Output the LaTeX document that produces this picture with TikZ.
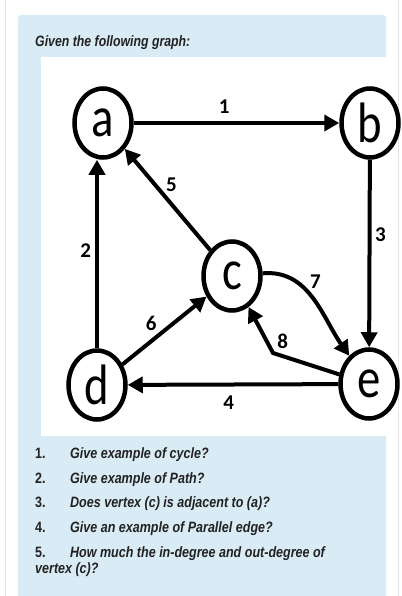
\documentclass[tikz,border=0pt]{standalone}
\usepackage{fontspec}
\usepackage{graphicx}
\setmainfont{Liberation Sans}
\newfontfamily\grfont{Carlito}
\usetikzlibrary{arrows.meta,positioning,shapes.geometric}
\definecolor{panelblue}{HTML}{D9EBF5}
\definecolor{cardgray}{HTML}{E4E4E4}
\definecolor{inktext}{HTML}{222222}
\newcommand{\narrow}[1]{\scalebox{0.82}[1]{#1}}
\newcommand{\qnarrow}[1]{\scalebox{0.835}[1]{#1}}

\begin{document}
\begin{tikzpicture}[
    x=1pt, y=-1pt,
    vtx/.style={ellipse, draw, line width=4.5pt, minimum width=57pt, minimum height=69pt, inner sep=0pt, font=\grfont\fontsize{57}{57}\selectfont},
    link/.style={line width=4pt, -{Triangle[length=15pt,width=16pt]}},
    wt/.style={font=\grfont\bfseries\fontsize{21}{21}\selectfont, inner sep=1pt},
    head/.style={anchor=base west, inner sep=0pt, text=inktext, font=\bfseries\itshape\fontsize{15}{15}\selectfont},
    ques/.style={anchor=base west, inner sep=0pt, text=inktext, font=\bfseries\itshape\fontsize{15}{15}\selectfont},
    qnum/.style={anchor=base west, inner sep=0pt, text=inktext, font=\bfseries\fontsize{15}{15}\selectfont},
  ]
  \useasboundingbox (0,0) rectangle (401,596);
  \fill[white] (0,0) rectangle (401,596);
  % card and panel
  \draw[cardgray, line width=1pt] (5.5,0) -- (5.5,596);
  \draw[cardgray, line width=1pt] (398,0) -- (398,596);
  \fill[panelblue, rounded corners=3pt] (18,15) rectangle (386,604);
  \fill[white] (41,57) rectangle (387,436);

  \node[head] (title) at (35,47) {\narrow{Given the following graph:}};

  % graph
  \node[vtx] (a) at (103,123) {\narrow{a}};
  \node[vtx] (b) at (370,123) {\narrow{b}};
  \node[vtx] (c) at (232,276) {\narrow{c}};
  \node[vtx] (d) at (97,385) {\narrow{d}};
  \node[vtx] (e) at (369,384) {\narrow{e}};
  \coordinate (k8) at (273,353);

  \draw[link] (a) -- node[wt, above=6pt, pos=0.44] (w1) {1} (b);
  \draw[link] (d) -- node[wt, left=3pt, pos=0.52] (w2) {2} (d |- a.south);
  \draw[link] (b) -- node[wt, right=2.5pt, pos=0.4] (w3) {3} (e);
  \draw[link] (e) -- node[wt, below=8pt, pos=0.52] (w4) {4} (d);
  \draw[link] (c) -- node[wt, above right=0pt, pos=0.55] (w5) {5} (a);
  \draw[link] (d) -- node[wt, above left=1pt, pos=0.45] (w6) {6} (c);
  \draw[link] (c) to[out=5, in=125] node[wt, above right=0pt, pos=0.42] (w7) {7} (e);
  \draw[link] (e) -- (k8) node[wt, above right=2pt] (w8) {8} -- (c);

  % questions
  \foreach \k/\yb/\q in {1/458/{Give example of cycle?}, 2/483/{Give example of Path?}, 3/507/{Does vertex (c) is adjacent to (a)?}, 4/532/{Give an example of Parallel edge?}, 5/557/{How much the in-degree and out-degree of}}{
    \node[qnum] (n\k) at (35,\yb) {\qnarrow{\k.}};
    \node[ques] (q\k) at (70,\yb) {\qnarrow{\q}};
  }
  \node[ques] (q6) at (35,573) {\qnarrow{vertex (c)?}};
\end{tikzpicture}
\end{document}
